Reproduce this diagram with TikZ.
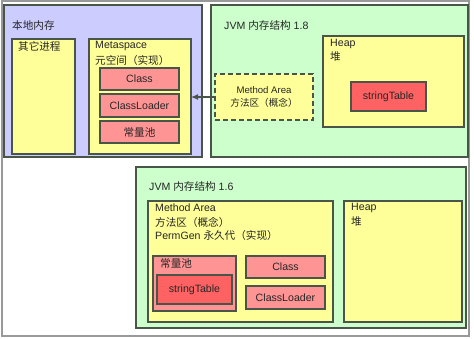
\documentclass[tikz,border=0pt]{standalone}
\usepackage{fontspec}
\setmainfont{Liberation Sans}
\newfontfamily\cjk{Noto Sans CJK SC}
\usepackage{tikz}
\usetikzlibrary{arrows.meta, positioning}

\definecolor{linec}{HTML}{4A554A}
\definecolor{lavender}{HTML}{CCCCFF}
\definecolor{mint}{HTML}{CCFFCC}
\definecolor{lemon}{HTML}{FFFF99}
\definecolor{rose}{HTML}{FF9494}
\definecolor{rosedark}{HTML}{FF6262}
\definecolor{textc}{HTML}{262626}

\tikzset{
  box/.style={draw=linec, line width=1.2pt, anchor=north west, inner sep=0pt, outer sep=0pt},
  lbl/.style={anchor=west, inner sep=0pt, text=textc, font=\fontsize{10.6}{12}\selectfont},
  cell/.style={box, fill=rose, text=textc, font=\fontsize{10.6}{12}\selectfont}
}

\begin{document}
\begin{tikzpicture}[x=1pt, y=-1pt]
\useasboundingbox (0,0) rectangle (474,339);
\draw[gray!80, line width=1.4pt] (2,1) rectangle (469,336);
% native memory
\node[box, fill=lavender, minimum width=198pt, minimum height=152pt] (native) at (4,5) {};
\node[lbl] (nativelbl) at (12,25) {\cjk 本地内存};
\node[box, fill=lemon, minimum width=63pt, minimum height=115pt] (other) at (12,39) {};
\node[lbl] (otherlbl) at (18,46) {\cjk 其它进程};
\node[box, fill=lemon, minimum width=102pt, minimum height=115pt] (meta) at (89,39) {};
\node[lbl] (metalbl) at (95,46) {Metaspace};
\node[lbl] (metalbl2) at (95,60) {\cjk 元空间（实现）};
\node[cell, minimum width=79pt, minimum height=22pt] (mclass) at (100,68) {Class};
\node[cell, minimum width=79pt, minimum height=23pt] (mloader) at (100,94) {ClassLoader};
\node[cell, minimum width=79pt, minimum height=22pt] (mpool) at (100,121) {\cjk 常量池};
% jvm 1.8
\node[box, fill=mint, minimum width=257pt, minimum height=152pt] (jvmnew) at (211,5) {};
\node[lbl] (jvmnewlbl) at (224,25) {JVM {\cjk 内存结构} 1.8};
\node[box, fill=lemon, dashed, dash pattern=on 5pt off 3pt, minimum width=98pt, minimum height=46pt,
      text=textc, align=center, font=\fontsize{9.6}{13.5}\selectfont] (marea) at (215,74) {Method Area\\{\cjk 方法区（概念）}};
\node[box, fill=lemon, minimum width=141pt, minimum height=91pt] (heapnew) at (323,36) {};
\node[lbl] (heapnewlbl) at (330,44) {Heap};
\node[lbl] (heapnewlbl2) at (330,57) {\cjk 堆};
\node[box, fill=rosedark, minimum width=75pt, minimum height=29pt, text=textc,
      font=\fontsize{10.6}{12}\selectfont] (stnew) at (351,82) {stringTable};
\draw[-{Latex[length=7pt, width=6pt]}, line width=1.1pt, linec] (marea.west) -- (marea.west -| meta.east);
% jvm 1.6
\node[box, fill=mint, minimum width=330pt, minimum height=161pt] (jvmold) at (136,167) {};
\node[lbl] (jvmoldlbl) at (149,186) {JVM {\cjk 内存结构} 1.6};
\node[box, fill=lemon, minimum width=185pt, minimum height=121pt] (perm) at (148,201) {};
\node[lbl] (permlbl) at (155,208) {Method Area};
\node[lbl] (permlbl2) at (155,222) {\cjk 方法区（概念）};
\node[lbl] (permlbl3) at (155,235) {PermGen {\cjk 永久代（实现）}};
\node[box, fill=lemon, minimum width=118pt, minimum height=121pt] (heapold) at (344,201) {};
\node[lbl] (heapoldlbl) at (351,208) {Heap};
\node[lbl] (heapoldlbl2) at (351,222) {\cjk 堆};
\node[box, fill=rose, minimum width=83pt, minimum height=55pt] (pool) at (153,256) {};
\node[lbl] (poollbl) at (160,263) {\cjk 常量池};
\node[box, fill=rosedark, minimum width=75pt, minimum height=29pt, text=textc,
      font=\fontsize{10.6}{12}\selectfont] (stold) at (157,275) {stringTable};
\node[cell, minimum width=79pt, minimum height=22pt] (oclass) at (246,256) {Class};
\node[cell, minimum width=79pt, minimum height=23pt] (oloader) at (246,286) {ClassLoader};
\end{tikzpicture}
\end{document}
